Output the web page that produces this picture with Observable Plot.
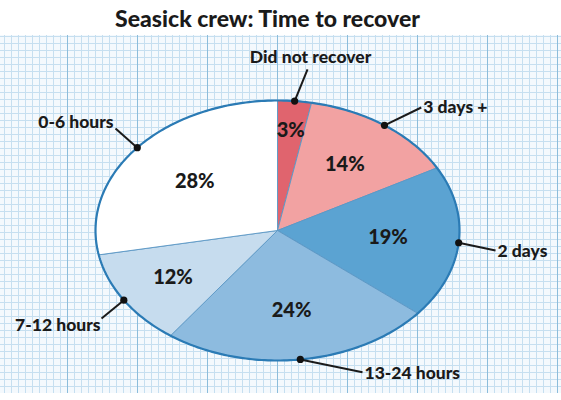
<!DOCTYPE html>
<html>
<head>
<meta charset="utf-8">
<script src="https://cdn.jsdelivr.net/npm/d3@7"></script>
<script src="https://cdn.jsdelivr.net/npm/@observablehq/plot@0.6"></script>
<style>
  html, body { margin: 0; padding: 0; background: #fff; }
  #wrap { width: 561px; height: 400px; position: relative; overflow: hidden; font-family: Lato, "Open Sans", sans-serif; }
  #title { height: 35px; line-height: 37px; font-size: 23px; font-weight: 900; color: #1a1a1a; text-align: center; padding-right: 26px; box-sizing: border-box; }
  #paper { position: absolute; left: 0; top: 35px; width: 561px; height: 358px;
    background-color: #f4f9fd;
    background-image:
      linear-gradient(to right, #8cbddb 0, #8cbddb 1.5px, transparent 1.5px),
      linear-gradient(to right, #c6dff0 0, #c6dff0 1px, transparent 1px),
      linear-gradient(to bottom, #c6dff0 0, #c6dff0 1px, transparent 1px);
    background-size: 70px 100%, 7px 100%, 100% 7px;
    background-position: 67px 0, 67px 0, 0 1px;
  }
  #chart { position: absolute; left: 0; top: 35px; }
</style>
</head>
<body>
<div id="wrap">
  <div id="title">Seasick crew: Time to recover</div>
  <div id="paper"></div>
  <div id="chart"></div>
</div>
<script>
// ---- data ----
const categories = ["Did not recover", "3 days +", "2 days", "13-24 hours", "7-12 hours", "0-6 hours"];
const percents = [3, 14, 19, 24, 12, 28];
const valueLabels = ["3%", "14%", "19%", "24%", "12%", "28%"];
const sliceColors = ["#e0646e", "#f2a2a2", "#5ba3d2", "#8dbbdf", "#c6dcee", "#ffffff"];

// ---- layout (not data) ----
const pctRadius = [0.77, 0.63, 0.61, 0.62, 0.68, 0.59];
const calloutEnd = [[0.165, 1.24], [0.79, 0.946], [1.198, -0.154], [0.467, -1.09], [-0.967, -0.677], [-0.89, 0.785]];
const calloutAnchor = ["middle", "start", "start", "start", "end", "end"];
const calloutDx = [3, 2, 2, 2, -1, -2];
const calloutDy = [-12, 0, 1, 1, 7, -6];

const pie = d3.pie().sort(null).value(d => d)(percents);
const polar = (a, r = 1) => ({u: r * Math.sin(a), v: r * Math.cos(a)});

const slices = pie.map((p, i) => ({...p, label: categories[i], i}));
const wedgePts = slices.flatMap(s => {
  const n = Math.max(4, Math.ceil((s.endAngle - s.startAngle) / 0.01));
  const pts = [{label: s.label, u: 0, v: 0}];
  for (let k = 0; k <= n; k++) {
    const a = s.startAngle + (s.endAngle - s.startAngle) * k / n;
    pts.push({label: s.label, ...polar(a)});
  }
  pts.push({label: s.label, u: 0, v: 0});
  return pts;
});
const rim = d3.range(0, 361).map(d => polar(d * Math.PI / 180));
const pctPts = slices.map(s => ({text: valueLabels[s.i], ...polar((s.startAngle + s.endAngle) / 2, pctRadius[s.i])}));
const callouts = slices.map(s => {
  const m = polar((s.startAngle + s.endAngle) / 2);
  return {label: s.label, i: s.i, u1: m.u, v1: m.v, u2: calloutEnd[s.i][0], v2: calloutEnd[s.i][1],
          anchor: calloutAnchor[s.i], dx: calloutDx[s.i], dy: calloutDy[s.i]};
});

const textMarks = ["middle", "start", "end"].flatMap(anchor =>
  callouts.filter(c => c.anchor === anchor).map(c =>
    Plot.text([c], {x: "u2", y: "v2", text: "label", textAnchor: anchor, dx: c.dx, dy: c.dy,
      fontSize: 17.5, fontWeight: 900, fill: "#1a1a1a", fontFamily: "Lato"})));

const chart = Plot.plot({
  width: 561,
  height: 365,
  margin: 0,
  style: {background: "transparent", overflow: "visible"},
  x: {domain: [-1, 1], range: [95, 459], axis: null},
  y: {domain: [-1, 1], range: [325, 65], axis: null},
  color: {domain: categories, range: sliceColors},
  marks: [
    Plot.line(wedgePts, {x: "u", y: "v", z: "label", fill: "label", stroke: "#5b97c4", strokeWidth: 1, strokeOpacity: 0.9, curve: "linear"}),
    Plot.line(rim, {x: "u", y: "v", stroke: "#2b7bb5", strokeWidth: 2.2}),
    Plot.text(pctPts, {x: "u", y: "v", text: "text", fontSize: 20, fontWeight: 900, fill: "#1a1a1a", fontFamily: "Lato"}),
    Plot.link(callouts, {x1: "u1", y1: "v1", x2: "u2", y2: "v2", stroke: "#1a1a1a", strokeWidth: 2}),
    Plot.dot(callouts, {x: "u1", y: "v1", r: 3.6, fill: "#111"}),
    ...textMarks
  ]
});
document.getElementById("chart").appendChild(chart);
</script>
</body>
</html>
